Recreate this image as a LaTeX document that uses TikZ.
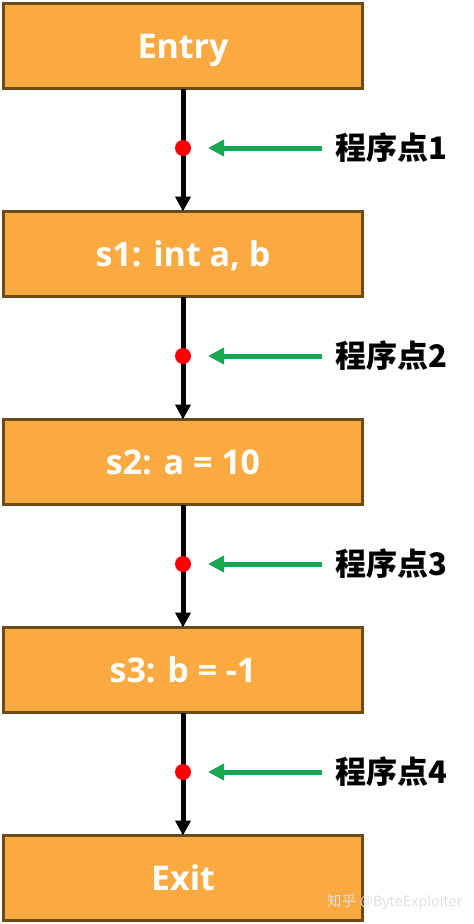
\documentclass[tikz,border=0pt]{standalone}
\usepackage{fontspec}
\setmainfont{Open Sans}
\newfontfamily\cjk{Noto Sans CJK SC}
\usetikzlibrary{arrows.meta}
\definecolor{boxfill}{HTML}{FBAA42}
\definecolor{boxline}{HTML}{6E4B16}
\definecolor{markgreen}{HTML}{17A651}

\begin{document}
\begin{tikzpicture}[node distance={208pt},
    block/.style = {draw=boxline, fill=boxfill, line width=3pt, minimum width=359pt, minimum height=85pt,
                    inner sep=0pt, outer sep=0pt, text height=24pt, text depth=0pt,
                    text=white, font=\fontsize{34}{40}\selectfont\bfseries},
    dot/.style = {circle, fill=red, minimum size=16pt, inner sep=0pt, outer sep=0pt},
    lbl/.style = {inner sep=0pt, font=\cjk\fontsize{31}{36}\selectfont\bfseries},
    flow/.style = {line width=5pt, -{Triangle[length=15pt, width=15pt]}},
    pointer/.style = {draw=markgreen, line width=5pt, -{Triangle[length=16pt, width=16pt]},
                   shorten <=13pt, shorten >=17pt}]
    \useasboundingbox (0pt,0pt) rectangle (474pt,-924pt);
    % blocks
    \node[block] (entry) at (183pt,-46pt) {Entry};
    \node[block] (s1) [below of=entry] {s1: int a, b};
    \node[block] (s2) [below of=s1]    {s2: a = 10};
    \node[block] (s3) [below of=s2]    {s3: b = -1};
    \node[block] (exit) [below of=s3]  {Exit};
    \draw[flow] (entry) -- (s1);
    \draw[flow] (s1) -- (s2);
    \draw[flow] (s2) -- (s3);
    \draw[flow] (s3) -- (exit);
    % program points
    \node[dot] (d1) [below of=entry, node distance=102pt] {};
    \node[dot] (d2) [below of=s1, node distance=102pt] {};
    \node[dot] (d3) [below of=s2, node distance=102pt] {};
    \node[dot] (d4) [below of=s3, node distance=102pt] {};
    \node[lbl] (l1) [right of=d1] {程序点1};
    \node[lbl] (l2) [right of=d2] {程序点2};
    \node[lbl] (l3) [right of=d3] {程序点3};
    \node[lbl] (l4) [right of=d4] {程序点4};
    \draw[pointer] (l1) -- (d1);
    \draw[pointer] (l2) -- (d2);
    \draw[pointer] (l3) -- (d3);
    \draw[pointer] (l4) -- (d4);
    % watermark
    \node[text=white!75!gray, font=\fontsize{14.5}{17}\selectfont] (wm) at (395pt,-902pt) {{\cjk 知乎}\ @ByteExploiter};
\end{tikzpicture}
\end{document}
